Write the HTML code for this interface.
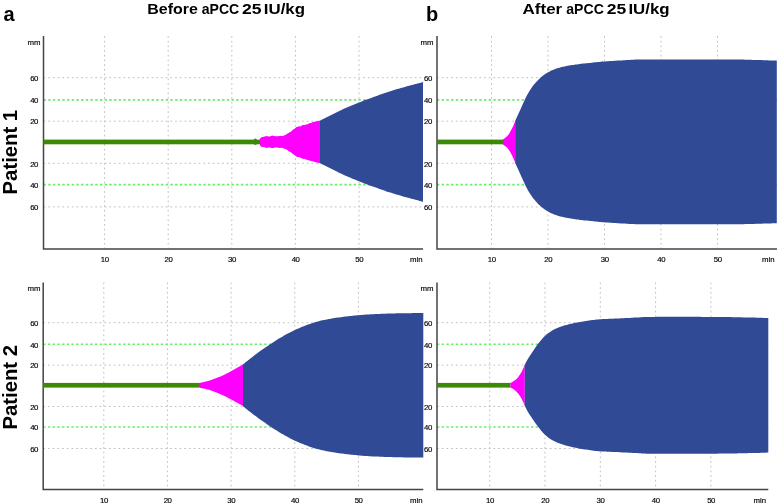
<!DOCTYPE html>
<html><head><meta charset="utf-8"><title>TEG tracings before and after aPCC</title>
<style>
html,body{margin:0;padding:0;background:#fff}
body{width:778px;height:504px;overflow:hidden}
svg{display:block}
.g{stroke:#c2c2c2;stroke-width:1;stroke-dasharray:1.8 2.9;fill:none}
.gg{stroke:#66F066;stroke-width:1.6;stroke-dasharray:2.4 2.3;fill:none}
.ax{stroke:#444;stroke-width:1.5;fill:none}
.t{font-family:"Liberation Sans","DejaVu Sans",sans-serif;font-size:7.8px;fill:#000;stroke:#000;stroke-width:0.15px}
.e{text-anchor:end} .m{text-anchor:middle;letter-spacing:-0.4px} .n{letter-spacing:-0.45px}
.b{font-family:"Liberation Sans","DejaVu Sans",sans-serif;font-weight:bold;fill:#000}
</style></head><body>
<svg width="778" height="504" viewBox="0 0 778 504">
<rect width="778" height="504" fill="#fff"/>
<g id="pa">
<line x1="104.6" y1="36" x2="104.6" y2="249" class="g"/>
<line x1="168.2" y1="36" x2="168.2" y2="249" class="g"/>
<line x1="231.8" y1="36" x2="231.8" y2="249" class="g"/>
<line x1="295.4" y1="36" x2="295.4" y2="249" class="g"/>
<line x1="359" y1="36" x2="359" y2="249" class="g"/>
<line x1="43.5" y1="77.7" x2="423" y2="77.7" class="g"/>
<line x1="43.5" y1="121.2" x2="423" y2="121.2" class="g"/>
<line x1="43.5" y1="163.3" x2="423" y2="163.3" class="g"/>
<line x1="43.5" y1="206.9" x2="423" y2="206.9" class="g"/>
<line x1="43.5" y1="99.9" x2="423" y2="99.9" class="gg"/>
<line x1="43.5" y1="184.6" x2="423" y2="184.6" class="gg"/>
<path d="M43.5 36V249H423" class="ax"/>
<rect x="43.5" y="139.6" width="216.5" height="4.7" fill="#3A8A08"/>
<path d="M319.6 120.9 L321.1 120.1 L322.6 119.3 L324.2 118.6 L325.7 117.8 L327.2 117.1 L328.7 116.3 L330.2 115.6 L331.8 114.8 L333.3 114.1 L334.8 113.3 L336.3 112.5 L337.8 111.7 L339.4 110.9 L340.9 110.2 L342.4 109.5 L343.9 108.8 L345.5 108.1 L347 107.5 L348.5 106.8 L350 106.2 L351.5 105.5 L353.1 104.9 L354.6 104.3 L356.1 103.7 L357.6 103.1 L359.1 102.5 L360.7 101.9 L362.2 101.2 L363.7 100.6 L365.2 100 L366.7 99.5 L368.3 98.9 L369.8 98.4 L371.3 97.9 L372.8 97.3 L374.3 96.8 L375.9 96.2 L377.4 95.7 L378.9 95.1 L380.4 94.5 L381.9 94 L383.5 93.5 L385 93 L386.5 92.4 L388 91.9 L389.5 91.5 L391.1 91 L392.6 90.5 L394.1 90 L395.6 89.6 L397.1 89.1 L398.7 88.7 L400.2 88.2 L401.7 87.8 L403.2 87.4 L404.8 86.9 L406.3 86.5 L407.8 86.1 L409.3 85.7 L410.8 85.3 L412.4 84.9 L413.9 84.5 L415.4 84.1 L416.9 83.7 L418.4 83.3 L420 82.9 L421.5 82.4 L423 82 L423 201.8 L421.5 201.4 L420 200.9 L418.4 200.5 L416.9 200.1 L415.4 199.7 L413.9 199.3 L412.4 198.9 L410.8 198.5 L409.3 198.1 L407.8 197.7 L406.3 197.3 L404.8 196.9 L403.2 196.4 L401.7 196 L400.2 195.6 L398.7 195.1 L397.1 194.7 L395.6 194.2 L394.1 193.8 L392.6 193.3 L391.1 192.8 L389.5 192.3 L388 191.9 L386.5 191.4 L385 190.8 L383.5 190.3 L381.9 189.8 L380.4 189.3 L378.9 188.7 L377.4 188.1 L375.9 187.6 L374.3 187 L372.8 186.5 L371.3 185.9 L369.8 185.4 L368.3 184.9 L366.7 184.3 L365.2 183.8 L363.7 183.2 L362.2 182.6 L360.7 181.9 L359.1 181.3 L357.6 180.7 L356.1 180.1 L354.6 179.5 L353.1 178.9 L351.5 178.3 L350 177.6 L348.5 177 L347 176.3 L345.5 175.7 L343.9 175 L342.4 174.3 L340.9 173.6 L339.4 172.9 L337.8 172.1 L336.3 171.3 L334.8 170.5 L333.3 169.7 L331.8 169 L330.2 168.2 L328.7 167.5 L327.2 166.7 L325.7 166 L324.2 165.2 L322.6 164.5 L321.1 163.7 L319.6 162.9Z" fill="#304A96"/>
<path d="M259.9 139.4 L260.8 137.8 L262.7 137.1 L265.2 136.6 L267 136.3 L269 136.8 L270.5 136.3 L272.2 135.8 L274 136.1 L275.4 136.6 L278 136.4 L280.5 136.1 L282.5 136.3 L284.3 135.5 L286 134.7 L288.1 133.5 L290 132.3 L291.9 130.9 L293.5 129.5 L295.1 128.5 L297 127 L299 126.8 L300.8 126.4 L302.7 125.3 L305 125.1 L307.1 124.4 L310 123.3 L313.5 122.3 L316.5 121.5 L319.8 120.7 L319.8 163.1 L316.5 162.3 L313.5 161.5 L310 160.5 L307.1 159.4 L305 158.7 L302.7 158.5 L300.8 157.4 L299 157 L297 156.8 L295.1 155.3 L293.5 154.3 L291.9 152.9 L290 151.5 L288.1 150.3 L286 149.1 L284.3 148.3 L282.5 147.5 L280.5 147.7 L278 147.4 L275.4 147.2 L274 147.7 L272.2 148 L270.5 147.5 L269 147 L267 147.5 L265.2 147.2 L262.7 146.7 L260.8 146 L259.9 144.4Z" fill="#FF00FF"/>
<text x="40.5" y="44.8" class="t e">mm</text>
<text x="38" y="80.9" class="t e n">60</text>
<text x="38" y="103.1" class="t e n">40</text>
<text x="38" y="124.4" class="t e n">20</text>
<text x="38" y="166.5" class="t e n">20</text>
<text x="38" y="187.8" class="t e n">40</text>
<text x="38" y="210.1" class="t e n">60</text>
<text x="104.8" y="262.3" class="t m">10</text>
<text x="168.4" y="262.3" class="t m">20</text>
<text x="232" y="262.3" class="t m">30</text>
<text x="295.6" y="262.3" class="t m">40</text>
<text x="359.2" y="262.3" class="t m">50</text>
<text x="422.5" y="262.3" class="t e">min</text>
<path d="M259.9 139.5 L260.6 138.1 L261.5 137.7 L262.4 137 L263.3 137.2 L264.2 136.7 L265.1 136.7 L266 136.7 L266.9 136.2 L267.8 136.8 L268.7 136.8 L269.6 137 L270.5 136.6 L271.4 136 L272.3 135.5 L273.2 136.2 L274.1 136.3 L275 136.4 L275.9 136.2 L276.8 136.4 L277.7 136.5 L278.6 135.9 L279.5 136.5 L280.4 135.8 L281.3 136.3 L282.2 136.5 L283.1 136.4 L284 135.8 L284.9 134.9 L285.8 135 L286.7 134.2 L287.6 133.6 L288.5 133.3 L289.4 132.6 L290.3 132.4 L291.2 131.7 L292.1 130.9 L293 129.7 L293.9 129.2 L294.8 128.8 L295.7 127.9 L296.6 127.2 L297.5 127 L298.4 126.6 L299.3 126.5 L300.2 126.7 L301.1 126.2 L302 125.6 L302.9 124.9 L303.8 125 L304.7 125.3 L305.6 124.5 L306.5 124.9 L307.4 124.3 L308.3 123.7 L309.2 123.8 L310.1 123.2 L311 123.3 L311.9 122.6 L312.8 122.2 L313.7 122.1 L314.6 121.6 L315.5 121.9 L316.4 121.3 L317.3 121.2 L318.2 121 L319.1 120.8 L319.8 120.7 L319.8 163.1 L319.1 162.7 L318.2 162.4 L317.3 162.2 L316.4 162.2 L315.5 161.8 L314.6 161.6 L313.7 161.3 L312.8 161 L311.9 161.2 L311 160.5 L310.1 160.5 L309.2 160.2 L308.3 160.1 L307.4 159.9 L306.5 159.4 L305.6 159.2 L304.7 158.4 L303.8 158.8 L302.9 158.7 L302 158.2 L301.1 157.7 L300.2 157.6 L299.3 157.1 L298.4 156.9 L297.5 156.9 L296.6 156.3 L295.7 155.7 L294.8 155.2 L293.9 154.6 L293 153.7 L292.1 152.9 L291.2 152.1 L290.3 151.5 L289.4 151.5 L288.5 150.9 L287.6 149.9 L286.7 149.5 L285.8 148.9 L284.9 148.9 L284 148.5 L283.1 148 L282.2 147.6 L281.3 147.6 L280.4 147.4 L279.5 148 L278.6 147.4 L277.7 147.2 L276.8 147 L275.9 147.5 L275 147 L274.1 147.4 L273.2 147.7 L272.3 148 L271.4 147.5 L270.5 147.7 L269.6 147.1 L268.7 146.9 L267.8 147.6 L266.9 147.9 L266 147.5 L265.1 147.4 L264.2 146.7 L263.3 147 L262.4 146.7 L261.5 146.8 L260.6 146.1 L259.9 144.3Z" fill="#FF00FF"/>
<ellipse cx="255.3" cy="141.7" rx="1.6" ry="3.2" fill="#3A8A08"/>
</g>
<g id="pb">
<line x1="491.5" y1="36" x2="491.5" y2="249" class="g"/>
<line x1="548" y1="36" x2="548" y2="249" class="g"/>
<line x1="604.5" y1="36" x2="604.5" y2="249" class="g"/>
<line x1="661" y1="36" x2="661" y2="249" class="g"/>
<line x1="717.5" y1="36" x2="717.5" y2="249" class="g"/>
<line x1="437" y1="77.7" x2="777" y2="77.7" class="g"/>
<line x1="437" y1="121.2" x2="777" y2="121.2" class="g"/>
<line x1="437" y1="163.3" x2="777" y2="163.3" class="g"/>
<line x1="437" y1="206.9" x2="777" y2="206.9" class="g"/>
<line x1="437" y1="99.9" x2="777" y2="99.9" class="gg"/>
<line x1="437" y1="184.6" x2="777" y2="184.6" class="gg"/>
<path d="M437 36V249H777" class="ax"/>
<rect x="437" y="139.6" width="66" height="4.7" fill="#3A8A08"/>
<path d="M515.1 120.9 L516.6 117.7 L518.1 114.5 L519.6 111.2 L521.1 107.9 L522.6 104.6 L524.1 101.3 L525.6 98.1 L527.1 95.1 L528.6 92.4 L530.1 90 L531.6 87.7 L533.1 85.6 L534.7 83.7 L536.2 82 L537.7 80.4 L539.2 78.9 L540.7 77.5 L542.2 76.3 L543.7 75.1 L545.2 74 L546.7 73.1 L548.2 72.2 L549.7 71.4 L551.2 70.6 L552.7 70 L554.2 69.4 L555.7 68.8 L557.2 68.3 L558.7 67.9 L560.2 67.4 L561.7 67 L563.2 66.7 L564.7 66.4 L566.2 66.1 L567.7 65.8 L569.2 65.5 L570.7 65.3 L572.3 65.1 L573.8 64.9 L575.3 64.6 L576.8 64.4 L578.3 64.2 L579.8 63.9 L581.3 63.7 L582.8 63.6 L584.3 63.4 L585.8 63.3 L587.3 63.2 L588.8 63 L590.3 62.9 L591.8 62.7 L593.3 62.5 L594.8 62.3 L596.3 62.2 L597.8 62 L599.3 61.9 L600.8 61.8 L602.3 61.6 L603.8 61.5 L605.3 61.4 L606.8 61.3 L608.3 61.2 L609.9 61.1 L611.4 61 L612.9 60.9 L614.4 60.8 L615.9 60.7 L617.4 60.6 L618.9 60.5 L620.4 60.4 L621.9 60.4 L623.4 60.3 L624.9 60.2 L626.4 60.1 L627.9 60 L629.4 59.9 L630.9 59.8 L632.4 59.8 L633.9 59.7 L635.4 59.6 L636.9 59.6 L638.4 59.6 L639.9 59.6 L641.4 59.6 L642.9 59.6 L644.4 59.5 L646 59.5 L647.5 59.5 L649 59.5 L650.5 59.5 L652 59.5 L653.5 59.5 L655 59.5 L656.5 59.5 L658 59.5 L659.5 59.5 L661 59.5 L662.5 59.5 L664 59.5 L665.5 59.5 L667 59.5 L668.5 59.5 L670 59.5 L671.5 59.5 L673 59.5 L674.5 59.5 L676 59.5 L677.5 59.5 L679 59.5 L680.5 59.5 L682 59.5 L683.6 59.5 L685.1 59.5 L686.6 59.5 L688.1 59.5 L689.6 59.5 L691.1 59.5 L692.6 59.5 L694.1 59.5 L695.6 59.5 L697.1 59.5 L698.6 59.5 L700.1 59.5 L701.6 59.5 L703.1 59.5 L704.6 59.5 L706.1 59.5 L707.6 59.5 L709.1 59.5 L710.6 59.5 L712.1 59.5 L713.6 59.5 L715.1 59.5 L716.6 59.5 L718.1 59.5 L719.6 59.5 L721.2 59.5 L722.7 59.5 L724.2 59.5 L725.7 59.5 L727.2 59.5 L728.7 59.6 L730.2 59.6 L731.7 59.6 L733.2 59.6 L734.7 59.6 L736.2 59.6 L737.7 59.6 L739.2 59.6 L740.7 59.6 L742.2 59.6 L743.7 59.6 L745.2 59.7 L746.7 59.7 L748.2 59.7 L749.7 59.8 L751.2 59.8 L752.7 59.9 L754.2 59.9 L755.7 60 L757.2 60 L758.8 60.1 L760.3 60.1 L761.8 60.1 L763.3 60.2 L764.8 60.2 L766.3 60.3 L767.8 60.3 L769.3 60.4 L770.8 60.4 L772.3 60.5 L773.8 60.5 L775.3 60.6 L776.8 60.6 L776.8 223.2 L775.3 223.2 L773.8 223.3 L772.3 223.3 L770.8 223.4 L769.3 223.4 L767.8 223.5 L766.3 223.5 L764.8 223.6 L763.3 223.6 L761.8 223.7 L760.3 223.7 L758.8 223.7 L757.2 223.8 L755.7 223.8 L754.2 223.9 L752.7 223.9 L751.2 224 L749.7 224 L748.2 224.1 L746.7 224.1 L745.2 224.1 L743.7 224.2 L742.2 224.2 L740.7 224.2 L739.2 224.2 L737.7 224.2 L736.2 224.2 L734.7 224.2 L733.2 224.2 L731.7 224.2 L730.2 224.2 L728.7 224.2 L727.2 224.3 L725.7 224.3 L724.2 224.3 L722.7 224.3 L721.2 224.3 L719.6 224.3 L718.1 224.3 L716.6 224.3 L715.1 224.3 L713.6 224.3 L712.1 224.3 L710.6 224.3 L709.1 224.3 L707.6 224.3 L706.1 224.3 L704.6 224.3 L703.1 224.3 L701.6 224.3 L700.1 224.3 L698.6 224.3 L697.1 224.3 L695.6 224.3 L694.1 224.3 L692.6 224.3 L691.1 224.3 L689.6 224.3 L688.1 224.3 L686.6 224.3 L685.1 224.3 L683.6 224.3 L682 224.3 L680.5 224.3 L679 224.3 L677.5 224.3 L676 224.3 L674.5 224.3 L673 224.3 L671.5 224.3 L670 224.3 L668.5 224.3 L667 224.3 L665.5 224.3 L664 224.3 L662.5 224.3 L661 224.3 L659.5 224.3 L658 224.3 L656.5 224.3 L655 224.3 L653.5 224.3 L652 224.3 L650.5 224.3 L649 224.3 L647.5 224.3 L646 224.3 L644.4 224.3 L642.9 224.2 L641.4 224.2 L639.9 224.2 L638.4 224.2 L636.9 224.2 L635.4 224.2 L633.9 224.1 L632.4 224 L630.9 224 L629.4 223.9 L627.9 223.8 L626.4 223.7 L624.9 223.6 L623.4 223.5 L621.9 223.4 L620.4 223.4 L618.9 223.3 L617.4 223.2 L615.9 223.1 L614.4 223 L612.9 222.9 L611.4 222.8 L609.9 222.7 L608.3 222.6 L606.8 222.5 L605.3 222.4 L603.8 222.3 L602.3 222.2 L600.8 222 L599.3 221.9 L597.8 221.8 L596.3 221.6 L594.8 221.5 L593.3 221.3 L591.8 221.1 L590.3 220.9 L588.8 220.8 L587.3 220.6 L585.8 220.5 L584.3 220.4 L582.8 220.2 L581.3 220.1 L579.8 219.9 L578.3 219.6 L576.8 219.4 L575.3 219.2 L573.8 218.9 L572.3 218.7 L570.7 218.5 L569.2 218.3 L567.7 218 L566.2 217.7 L564.7 217.4 L563.2 217.1 L561.7 216.8 L560.2 216.4 L558.7 215.9 L557.2 215.5 L555.7 215 L554.2 214.4 L552.7 213.8 L551.2 213.2 L549.7 212.4 L548.2 211.6 L546.7 210.7 L545.2 209.8 L543.7 208.7 L542.2 207.5 L540.7 206.3 L539.2 204.9 L537.7 203.4 L536.2 201.8 L534.7 200.1 L533.1 198.2 L531.6 196.1 L530.1 193.8 L528.6 191.4 L527.1 188.7 L525.6 185.7 L524.1 182.5 L522.6 179.2 L521.1 175.9 L519.6 172.6 L518.1 169.3 L516.6 166.1 L515.1 162.9Z" fill="#304A96"/>
<path d="M502.9 139.4 L505 137.9 L507 136.2 L509 133.9 L511 130.3 L513 126.4 L515.3 121.1 L515.3 162.7 L513 157.4 L511 153.5 L509 149.9 L507 147.6 L505 145.9 L502.9 144.4Z" fill="#FF00FF"/>
<text x="433.4" y="44.8" class="t e">mm</text>
<text x="431.9" y="80.9" class="t e n">60</text>
<text x="431.9" y="103.1" class="t e n">40</text>
<text x="431.9" y="124.4" class="t e n">20</text>
<text x="431.9" y="166.5" class="t e n">20</text>
<text x="431.9" y="187.8" class="t e n">40</text>
<text x="431.9" y="210.1" class="t e n">60</text>
<text x="491.7" y="262.3" class="t m">10</text>
<text x="548.2" y="262.3" class="t m">20</text>
<text x="604.7" y="262.3" class="t m">30</text>
<text x="661.2" y="262.3" class="t m">40</text>
<text x="717.7" y="262.3" class="t m">50</text>
<text x="774.6" y="262.3" class="t e">min</text>
</g>
<g id="pc">
<line x1="103.8" y1="282.5" x2="103.8" y2="489.6" class="g"/>
<line x1="167.4" y1="282.5" x2="167.4" y2="489.6" class="g"/>
<line x1="231.1" y1="282.5" x2="231.1" y2="489.6" class="g"/>
<line x1="294.8" y1="282.5" x2="294.8" y2="489.6" class="g"/>
<line x1="358.4" y1="282.5" x2="358.4" y2="489.6" class="g"/>
<line x1="43.2" y1="322.7" x2="423.3" y2="322.7" class="g"/>
<line x1="43.2" y1="365.1" x2="423.3" y2="365.1" class="g"/>
<line x1="43.2" y1="406.5" x2="423.3" y2="406.5" class="g"/>
<line x1="43.2" y1="448.5" x2="423.3" y2="448.5" class="g"/>
<line x1="43.2" y1="344.3" x2="423.3" y2="344.3" class="gg"/>
<line x1="43.2" y1="427" x2="423.3" y2="427" class="gg"/>
<path d="M43.2 282.5V489.6H423.3" class="ax"/>
<rect x="43.2" y="382.9" width="155.8" height="4.7" fill="#3A8A08"/>
<path d="M242.8 364.6 L244.3 363.4 L245.8 362.1 L247.3 360.9 L248.8 359.7 L250.3 358.6 L251.8 357.4 L253.3 356.2 L254.8 355.1 L256.3 354 L257.8 352.8 L259.3 351.7 L260.9 350.6 L262.4 349.6 L263.9 348.5 L265.4 347.5 L266.9 346.4 L268.4 345.4 L269.9 344.4 L271.4 343.4 L272.9 342.4 L274.4 341.4 L275.9 340.5 L277.4 339.6 L278.9 338.6 L280.4 337.7 L281.9 336.9 L283.4 336 L284.9 335.1 L286.4 334.3 L287.9 333.5 L289.4 332.7 L290.9 331.9 L292.4 331.2 L293.9 330.4 L295.4 329.7 L296.9 329 L298.5 328.4 L300 327.7 L301.5 327.1 L303 326.5 L304.5 325.9 L306 325.3 L307.5 324.8 L309 324.2 L310.5 323.7 L312 323.2 L313.5 322.7 L315 322.2 L316.5 321.8 L318 321.4 L319.5 321 L321 320.6 L322.5 320.3 L324 320 L325.5 319.7 L327 319.4 L328.5 319.1 L330 318.9 L331.5 318.6 L333.1 318.3 L334.6 318.1 L336.1 317.8 L337.6 317.6 L339.1 317.4 L340.6 317.2 L342.1 317 L343.6 316.8 L345.1 316.6 L346.6 316.4 L348.1 316.3 L349.6 316.1 L351.1 315.9 L352.6 315.8 L354.1 315.6 L355.6 315.5 L357.1 315.3 L358.6 315.2 L360.1 315.1 L361.6 314.9 L363.1 314.8 L364.6 314.7 L366.1 314.6 L367.6 314.5 L369.1 314.4 L370.7 314.3 L372.2 314.2 L373.7 314.2 L375.2 314.1 L376.7 314 L378.2 314 L379.7 313.9 L381.2 313.8 L382.7 313.8 L384.2 313.7 L385.7 313.7 L387.2 313.6 L388.7 313.6 L390.2 313.5 L391.7 313.5 L393.2 313.4 L394.7 313.4 L396.2 313.3 L397.7 313.3 L399.2 313.3 L400.7 313.3 L402.2 313.3 L403.7 313.2 L405.2 313.2 L406.8 313.2 L408.3 313.2 L409.8 313.2 L411.3 313.2 L412.8 313.1 L414.3 313.1 L415.8 313.1 L417.3 313.1 L418.8 313.1 L420.3 313.1 L421.8 313.1 L423.3 313.1 L423.3 457.5 L421.8 457.5 L420.3 457.5 L418.8 457.5 L417.3 457.5 L415.8 457.5 L414.3 457.5 L412.8 457.5 L411.3 457.4 L409.8 457.4 L408.3 457.4 L406.8 457.4 L405.2 457.4 L403.7 457.4 L402.2 457.3 L400.7 457.3 L399.2 457.3 L397.7 457.3 L396.2 457.3 L394.7 457.2 L393.2 457.2 L391.7 457.1 L390.2 457.1 L388.7 457 L387.2 457 L385.7 456.9 L384.2 456.9 L382.7 456.8 L381.2 456.8 L379.7 456.7 L378.2 456.6 L376.7 456.6 L375.2 456.5 L373.7 456.4 L372.2 456.4 L370.7 456.3 L369.1 456.2 L367.6 456.1 L366.1 456 L364.6 455.9 L363.1 455.8 L361.6 455.7 L360.1 455.5 L358.6 455.4 L357.1 455.3 L355.6 455.1 L354.1 455 L352.6 454.8 L351.1 454.7 L349.6 454.5 L348.1 454.3 L346.6 454.2 L345.1 454 L343.6 453.8 L342.1 453.6 L340.6 453.4 L339.1 453.2 L337.6 453 L336.1 452.8 L334.6 452.5 L333.1 452.3 L331.5 452 L330 451.7 L328.5 451.5 L327 451.2 L325.5 450.9 L324 450.6 L322.5 450.3 L321 450 L319.5 449.6 L318 449.2 L316.5 448.8 L315 448.4 L313.5 447.9 L312 447.4 L310.5 446.9 L309 446.4 L307.5 445.8 L306 445.3 L304.5 444.7 L303 444.1 L301.5 443.5 L300 442.9 L298.5 442.2 L296.9 441.6 L295.4 440.9 L293.9 440.2 L292.4 439.4 L290.9 438.7 L289.4 437.9 L287.9 437.1 L286.4 436.3 L284.9 435.5 L283.4 434.6 L281.9 433.7 L280.4 432.9 L278.9 432 L277.4 431 L275.9 430.1 L274.4 429.2 L272.9 428.2 L271.4 427.2 L269.9 426.2 L268.4 425.2 L266.9 424.2 L265.4 423.1 L263.9 422.1 L262.4 421 L260.9 420 L259.3 418.9 L257.8 417.8 L256.3 416.6 L254.8 415.5 L253.3 414.4 L251.8 413.2 L250.3 412 L248.8 410.9 L247.3 409.7 L245.8 408.5 L244.3 407.2 L242.8 406Z" fill="#304A96"/>
<path d="M198.9 383 L202 382.4 L205.9 381.6 L209.8 380.5 L213.8 379.1 L217.7 377.6 L221.7 375.9 L225.7 374 L229.7 371.9 L233.6 369.8 L237.6 367.6 L243 364.6 L243 406 L237.6 403 L233.6 400.8 L229.7 398.7 L225.7 396.6 L221.7 394.7 L217.7 393 L213.8 391.5 L209.8 390.1 L205.9 389 L202 388.2 L198.9 387.6Z" fill="#FF00FF"/>
<text x="40.5" y="291.3" class="t e">mm</text>
<text x="38" y="325.9" class="t e n">60</text>
<text x="38" y="347.5" class="t e n">40</text>
<text x="38" y="368.3" class="t e n">20</text>
<text x="38" y="409.7" class="t e n">20</text>
<text x="38" y="430.2" class="t e n">40</text>
<text x="38" y="451.7" class="t e n">60</text>
<text x="104" y="502.5" class="t m">10</text>
<text x="167.6" y="502.5" class="t m">20</text>
<text x="231.3" y="502.5" class="t m">30</text>
<text x="294.9" y="502.5" class="t m">40</text>
<text x="358.6" y="502.5" class="t m">50</text>
<text x="422.5" y="502.5" class="t e">min</text>
</g>
<g id="pd">
<line x1="489.7" y1="282.5" x2="489.7" y2="489.6" class="g"/>
<line x1="545" y1="282.5" x2="545" y2="489.6" class="g"/>
<line x1="600.3" y1="282.5" x2="600.3" y2="489.6" class="g"/>
<line x1="655.6" y1="282.5" x2="655.6" y2="489.6" class="g"/>
<line x1="710.9" y1="282.5" x2="710.9" y2="489.6" class="g"/>
<line x1="437" y1="322.7" x2="768.3" y2="322.7" class="g"/>
<line x1="437" y1="365.1" x2="768.3" y2="365.1" class="g"/>
<line x1="437" y1="406.5" x2="768.3" y2="406.5" class="g"/>
<line x1="437" y1="448.5" x2="768.3" y2="448.5" class="g"/>
<line x1="437" y1="344.3" x2="768.3" y2="344.3" class="gg"/>
<line x1="437" y1="427" x2="768.3" y2="427" class="gg"/>
<path d="M437 282.5V489.6H768.3" class="ax"/>
<rect x="437" y="382.9" width="73.4" height="4.7" fill="#3A8A08"/>
<path d="M524.4 365.5 L525.9 362.5 L527.4 359.7 L528.9 357.2 L530.4 354.9 L531.9 352.7 L533.4 350.4 L534.9 348.2 L536.4 346.1 L537.9 344 L539.5 342.1 L541 340.2 L542.5 338.4 L544 336.8 L545.5 335.4 L547 334.1 L548.5 332.9 L550 331.9 L551.5 330.9 L553 330.1 L554.5 329.3 L556 328.6 L557.5 327.9 L559 327.3 L560.5 326.8 L562 326.3 L563.5 325.8 L565 325.3 L566.6 324.9 L568.1 324.5 L569.6 324.1 L571.1 323.8 L572.6 323.4 L574.1 323.1 L575.6 322.8 L577.1 322.5 L578.6 322.2 L580.1 321.9 L581.6 321.7 L583.1 321.4 L584.6 321.2 L586.1 321 L587.6 320.8 L589.1 320.5 L590.6 320.3 L592.1 320.1 L593.7 319.9 L595.2 319.7 L596.7 319.6 L598.2 319.4 L599.7 319.3 L601.2 319.2 L602.7 319.1 L604.2 319 L605.7 319 L607.2 318.9 L608.7 318.8 L610.2 318.8 L611.7 318.7 L613.2 318.7 L614.7 318.6 L616.2 318.5 L617.7 318.5 L619.2 318.4 L620.8 318.3 L622.3 318.2 L623.8 318.2 L625.3 318.1 L626.8 318 L628.3 317.9 L629.8 317.9 L631.3 317.8 L632.8 317.7 L634.3 317.6 L635.8 317.6 L637.3 317.5 L638.8 317.4 L640.3 317.3 L641.8 317.2 L643.3 317.1 L644.8 317 L646.3 316.9 L647.9 316.9 L649.4 316.9 L650.9 316.9 L652.4 316.9 L653.9 316.9 L655.4 316.9 L656.9 316.8 L658.4 316.8 L659.9 316.8 L661.4 316.8 L662.9 316.8 L664.4 316.8 L665.9 316.8 L667.4 316.8 L668.9 316.8 L670.4 316.8 L671.9 316.8 L673.4 316.8 L675 316.8 L676.5 316.8 L678 316.8 L679.5 316.8 L681 316.8 L682.5 316.8 L684 316.8 L685.5 316.8 L687 316.8 L688.5 316.8 L690 316.8 L691.5 316.8 L693 316.8 L694.5 316.8 L696 316.8 L697.5 316.8 L699 316.8 L700.5 316.8 L702.1 316.9 L703.6 316.9 L705.1 316.9 L706.6 316.9 L708.1 316.9 L709.6 316.9 L711.1 316.9 L712.6 316.9 L714.1 316.9 L715.6 316.9 L717.1 316.9 L718.6 317 L720.1 317 L721.6 317 L723.1 317 L724.6 317 L726.1 317.1 L727.6 317.1 L729.2 317.1 L730.7 317.1 L732.2 317.2 L733.7 317.2 L735.2 317.2 L736.7 317.2 L738.2 317.3 L739.7 317.3 L741.2 317.3 L742.7 317.4 L744.2 317.4 L745.7 317.4 L747.2 317.4 L748.7 317.5 L750.2 317.5 L751.7 317.5 L753.2 317.6 L754.8 317.6 L756.3 317.7 L757.8 317.7 L759.3 317.7 L760.8 317.8 L762.3 317.8 L763.8 317.9 L765.3 317.9 L766.8 318 L768.3 318 L768.3 452.6 L766.8 452.6 L765.3 452.7 L763.8 452.7 L762.3 452.8 L760.8 452.8 L759.3 452.9 L757.8 452.9 L756.3 452.9 L754.8 453 L753.2 453 L751.7 453.1 L750.2 453.1 L748.7 453.1 L747.2 453.2 L745.7 453.2 L744.2 453.2 L742.7 453.2 L741.2 453.3 L739.7 453.3 L738.2 453.3 L736.7 453.4 L735.2 453.4 L733.7 453.4 L732.2 453.4 L730.7 453.5 L729.2 453.5 L727.6 453.5 L726.1 453.5 L724.6 453.6 L723.1 453.6 L721.6 453.6 L720.1 453.6 L718.6 453.6 L717.1 453.7 L715.6 453.7 L714.1 453.7 L712.6 453.7 L711.1 453.7 L709.6 453.7 L708.1 453.7 L706.6 453.7 L705.1 453.7 L703.6 453.7 L702.1 453.7 L700.5 453.8 L699 453.8 L697.5 453.8 L696 453.8 L694.5 453.8 L693 453.8 L691.5 453.8 L690 453.8 L688.5 453.8 L687 453.8 L685.5 453.8 L684 453.8 L682.5 453.8 L681 453.8 L679.5 453.8 L678 453.8 L676.5 453.8 L675 453.8 L673.4 453.8 L671.9 453.8 L670.4 453.8 L668.9 453.8 L667.4 453.8 L665.9 453.8 L664.4 453.8 L662.9 453.8 L661.4 453.8 L659.9 453.8 L658.4 453.8 L656.9 453.8 L655.4 453.7 L653.9 453.7 L652.4 453.7 L650.9 453.7 L649.4 453.7 L647.9 453.7 L646.3 453.7 L644.8 453.6 L643.3 453.5 L641.8 453.4 L640.3 453.3 L638.8 453.2 L637.3 453.1 L635.8 453 L634.3 453 L632.8 452.9 L631.3 452.8 L629.8 452.7 L628.3 452.7 L626.8 452.6 L625.3 452.5 L623.8 452.4 L622.3 452.4 L620.8 452.3 L619.2 452.2 L617.7 452.1 L616.2 452.1 L614.7 452 L613.2 451.9 L611.7 451.9 L610.2 451.8 L608.7 451.8 L607.2 451.7 L605.7 451.6 L604.2 451.6 L602.7 451.5 L601.2 451.4 L599.7 451.3 L598.2 451.2 L596.7 451 L595.2 450.9 L593.7 450.7 L592.1 450.5 L590.6 450.3 L589.1 450.1 L587.6 449.8 L586.1 449.6 L584.6 449.4 L583.1 449.2 L581.6 448.9 L580.1 448.7 L578.6 448.4 L577.1 448.1 L575.6 447.8 L574.1 447.5 L572.6 447.2 L571.1 446.8 L569.6 446.5 L568.1 446.1 L566.6 445.7 L565 445.3 L563.5 444.8 L562 444.3 L560.5 443.8 L559 443.3 L557.5 442.7 L556 442 L554.5 441.3 L553 440.5 L551.5 439.7 L550 438.7 L548.5 437.7 L547 436.5 L545.5 435.2 L544 433.8 L542.5 432.2 L541 430.4 L539.5 428.5 L537.9 426.6 L536.4 424.5 L534.9 422.4 L533.4 420.2 L531.9 417.9 L530.4 415.7 L528.9 413.4 L527.4 410.9 L525.9 408.1 L524.4 405.1Z" fill="#304A96"/>
<path d="M510.3 383 L512 382.3 L513.9 381.1 L516 379.4 L517.9 377.4 L520 374.5 L521.8 371.4 L523 368.8 L524.6 365.5 L524.6 405.1 L523 401.8 L521.8 399.2 L520 396.1 L517.9 393.2 L516 391.2 L513.9 389.5 L512 388.3 L510.3 387.6Z" fill="#FF00FF"/>
<text x="433.4" y="291.3" class="t e">mm</text>
<text x="431.9" y="325.9" class="t e n">60</text>
<text x="431.9" y="347.5" class="t e n">40</text>
<text x="431.9" y="368.3" class="t e n">20</text>
<text x="431.9" y="409.7" class="t e n">20</text>
<text x="431.9" y="430.2" class="t e n">40</text>
<text x="431.9" y="451.7" class="t e n">60</text>
<text x="489.9" y="502.5" class="t m">10</text>
<text x="545.2" y="502.5" class="t m">20</text>
<text x="600.5" y="502.5" class="t m">30</text>
<text x="655.8" y="502.5" class="t m">40</text>
<text x="711.1" y="502.5" class="t m">50</text>
<text x="766.2" y="502.5" class="t e">min</text>
</g>
<text x="3.5" y="21.3" class="b" font-size="20">a</text>
<text x="426" y="21.3" class="b" font-size="20">b</text>
<text y="13.6" class="b" font-size="15.2"><tspan x="147.3" textLength="50.6" lengthAdjust="spacingAndGlyphs">Before</tspan> <tspan x="201.7" textLength="37.5" lengthAdjust="spacingAndGlyphs">aPCC</tspan> <tspan x="242.1" textLength="19.5" lengthAdjust="spacingAndGlyphs">25</tspan> <tspan x="263.8" textLength="41.2" lengthAdjust="spacingAndGlyphs">IU/kg</tspan></text>
<text y="13.6" class="b" font-size="15.2"><tspan x="522.6" textLength="39.6" lengthAdjust="spacingAndGlyphs">After</tspan> <tspan x="566.3" textLength="37.5" lengthAdjust="spacingAndGlyphs">aPCC</tspan> <tspan x="606.7" textLength="19.5" lengthAdjust="spacingAndGlyphs">25</tspan> <tspan x="628.4" textLength="41.2" lengthAdjust="spacingAndGlyphs">IU/kg</tspan></text>
<text transform="translate(17.2 194.4) rotate(-90)" class="b" font-size="20" textLength="84.5" lengthAdjust="spacingAndGlyphs">Patient 1</text>
<text transform="translate(17.2 429.5) rotate(-90)" class="b" font-size="20" textLength="84.5" lengthAdjust="spacingAndGlyphs">Patient 2</text>
</svg>
</body></html>
